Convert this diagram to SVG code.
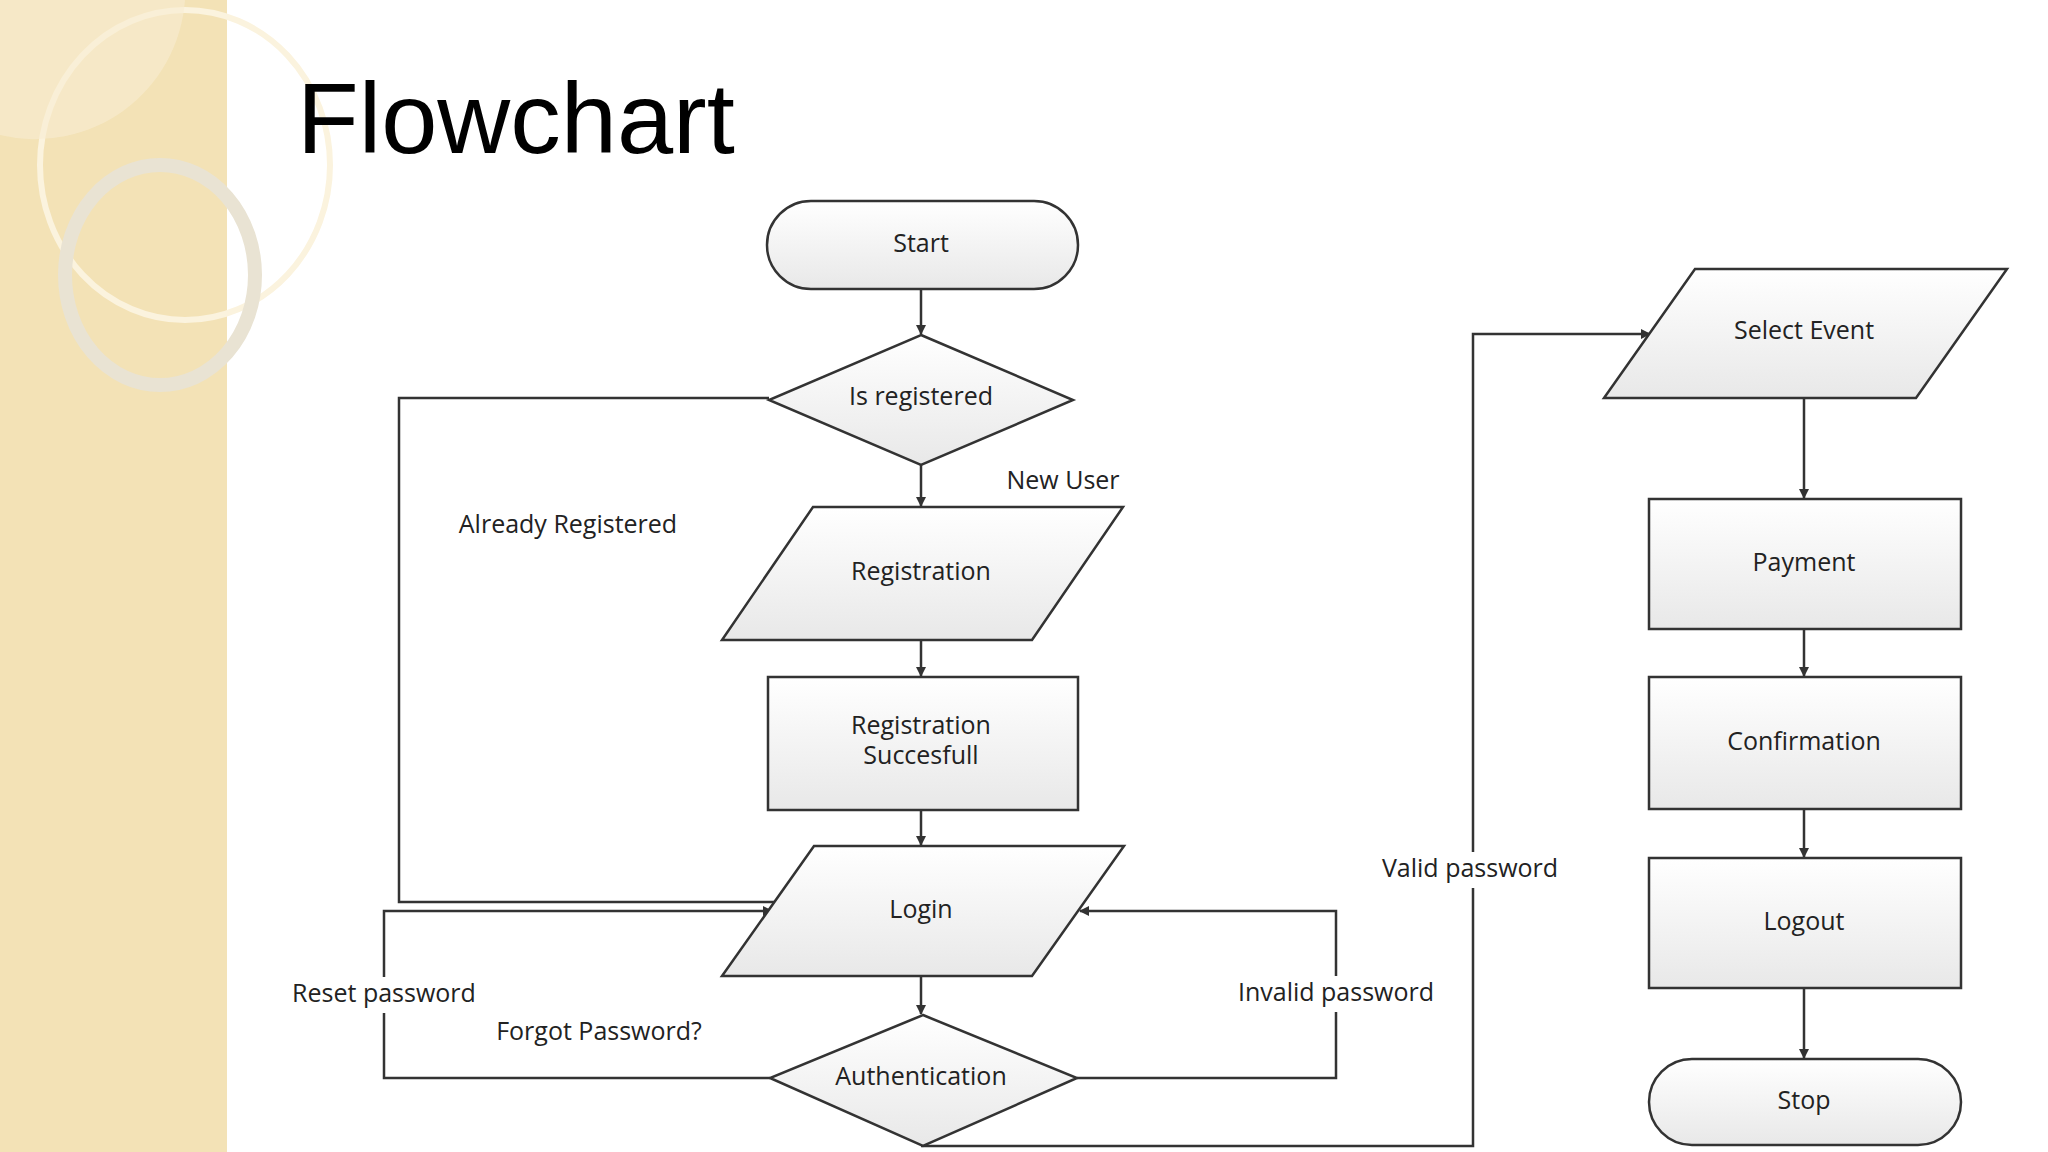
<svg xmlns="http://www.w3.org/2000/svg" width="2048" height="1152" viewBox="0 0 2048 1152">
<defs>
<linearGradient id="g" x1="0" y1="0" x2="0" y2="1"><stop offset="0" stop-color="#ffffff"/><stop offset="1" stop-color="#e8e8e8"/></linearGradient>
<marker id="a" markerWidth="10" markerHeight="10" refX="9" refY="5" orient="auto" markerUnits="userSpaceOnUse" viewBox="0 0 10 10"><path d="M0,0 L10,5 L0,10 z" fill="#333"/></marker>
<style>
.s{fill:url(#g);stroke:#333;stroke-width:2.5}
.c{fill:none;stroke:#333;stroke-width:2.5;marker-end:url(#a)}
.t{font-family:"Open Sans","DejaVu Sans",sans-serif;font-size:25px;fill:#222;text-anchor:middle;dominant-baseline:middle}
.bg{fill:#fff}
</style>
</defs>
<rect width="2048" height="1152" fill="#fff"/>
<g id="sidebar">
<rect x="0" y="0" width="227" height="1152" fill="#f3e2b6"/>
<ellipse cx="185" cy="165" rx="145" ry="155" fill="none" stroke="#fbf3de" stroke-width="6"/>
<ellipse cx="160" cy="275" rx="95" ry="110" fill="none" stroke="#e9e3d3" stroke-width="14"/>
<path d="M0,0 H185 A150,150 0 0 1 0,135 Z" fill="#f8ecd2" opacity="0.6"/>
</g>
<text x="297" y="153" font-family="Liberation Sans, Arial, sans-serif" font-size="101" fill="#000">Flowchart</text>
<g id="connectors">
<path class="c" d="M921 289 V334"/>
<path class="c" d="M921 465 V506"/>
<path class="c" d="M921 640 V676"/>
<path class="c" d="M921 810 V845"/>
<path class="c" d="M921 976 V1014"/>
<path class="c" d="M1804 398 V498"/>
<path class="c" d="M1804 629 V676"/>
<path class="c" d="M1804 809 V857"/>
<path class="c" d="M1804 988 V1058"/>
<path class="c" d="M769 398 H399 V902 H802"/>
<path class="c" d="M770 1078 H384 V911 H772"/>
<path class="c" d="M1077 1078 H1336 V911 H1080"/>
<path class="c" d="M921 1146 H1473 V334 H1650"/>
<rect class="bg" x="1360" y="852" width="226" height="36"/>
<rect class="bg" x="1212" y="976" width="248" height="36"/>
<rect class="bg" x="272" y="977" width="224" height="36"/>
<text class="t" x="1470" y="870">Valid password</text>
<text class="t" x="1336" y="994">Invalid password</text>
<text class="t" x="384" y="995">Reset password</text>
<text class="t" x="599" y="1033">Forgot Password?</text>
<text class="t" x="568" y="526">Already Registered</text>
<text class="t" x="1063" y="482">New User</text>
</g>
<g id="start"><rect class="s" x="767" y="201" width="311" height="88" rx="44"/><text class="t" x="921" y="245">Start</text></g>
<g id="isreg"><polygon class="s" points="921,335 1073,400 921,465 769,400"/><text class="t" x="921" y="398">Is registered</text></g>
<g id="registration"><polygon class="s" points="813,507 1123,507 1032,640 722,640"/><text class="t" x="921" y="573">Registration</text></g>
<g id="regsucc"><rect class="s" x="768" y="677" width="310" height="133"/><text class="t" x="921" y="727">Registration</text><text class="t" x="921" y="757">Succesfull</text></g>
<g id="login"><polygon class="s" points="814,846 1124,846 1032,976 722,976"/><text class="t" x="921" y="911">Login</text></g>
<g id="auth"><polygon class="s" points="923,1015 1077,1078 923,1146 770,1078"/><text class="t" x="921" y="1078">Authentication</text></g>
<g id="select"><polygon class="s" points="1695,269 2007,269 1916,398 1604,398"/><text class="t" x="1804" y="332">Select Event</text></g>
<g id="payment"><rect class="s" x="1649" y="499" width="312" height="130"/><text class="t" x="1804" y="564">Payment</text></g>
<g id="confirmation"><rect class="s" x="1649" y="677" width="312" height="132"/><text class="t" x="1804" y="743">Confirmation</text></g>
<g id="logout"><rect class="s" x="1649" y="858" width="312" height="130"/><text class="t" x="1804" y="923">Logout</text></g>
<g id="stop"><rect class="s" x="1649" y="1059" width="312" height="86" rx="43"/><text class="t" x="1804" y="1102">Stop</text></g>
</svg>
